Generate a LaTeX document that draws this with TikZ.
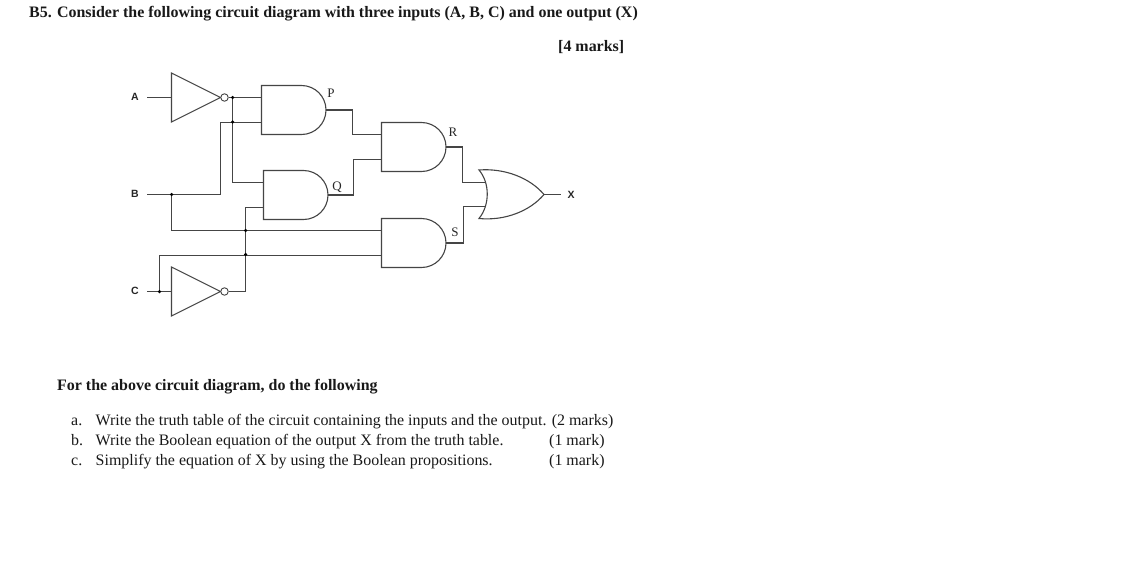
\documentclass[tikz,border=0pt]{standalone}
\usepackage{fontspec}
\setmainfont{Liberation Serif}
\newfontfamily\lblfont{Liberation Sans}
\definecolor{wirec}{HTML}{454545}
\tikzset{
  wire/.style={draw=wirec,line width=1.1pt,line join=miter},
  gateline/.style={draw=wirec,line width=1.1pt,fill=white,line join=miter},
  dotm/.style={circle,fill=black,inner sep=0pt,minimum size=3.5pt},
  bubble/.style={circle,draw=wirec,line width=0.9pt,fill=white,inner sep=0pt,minimum size=7.5pt},
  inlab/.style={font=\lblfont\bfseries\fontsize{10.5}{12}\selectfont,text=black!85,inner sep=0pt},
  gatelab/.style={font=\fontsize{13}{15}\selectfont,text=black!85,inner sep=0pt},
  txt/.style={anchor=base west,inner sep=0pt,font=\fontsize{15.95}{18}\selectfont,text=black!90},
  txtb/.style={txt,font=\bfseries\fontsize{15.95}{18}\selectfont},
}
\newcommand{\andgate}[3]{% name, left x, top y
  \draw[gateline] (#2,#3) -- ++(40,0) arc[start angle=-90,end angle=90,radius=24.5] -- ++(-40,0) -- cycle;
  \coordinate (#1i1) at (#2,#3+12);
  \coordinate (#1i2) at (#2,#3+37);
  \coordinate (#1o) at (#2+64.5,#3+24.5);
}
\newcommand{\notgate}[3]{% name, left x, center y
  \draw[gateline] (#2,#3-24.5) -- (#2+49,#3) -- (#2,#3+24.5) -- cycle;
  \node[bubble] (#1b) at (#2+53,#3) {};
  \coordinate (#1i) at (#2,#3);
}
\begin{document}
\begin{tikzpicture}[x=1pt,y=-1pt]
\useasboundingbox[fill=white] (0,0) rectangle (1129,578);
% text
\node[txtb] (title) at (29,17.6) {B5. Consider the following circuit diagram with three inputs (A, B, C) and one output (X)};
\node[txtb] (marks) at (558,51.6) {[4 marks]};
\node[txtb] (head) at (57,390) {For the above circuit diagram, do the following};
\node[txt] (la) at (71,425) {a.};
\node[txt] (ta) at (95.5,425) {Write the truth table of the circuit containing the inputs and the output. (2 marks)};
\node[txt] (lb) at (71,445) {b.};
\node[txt] (tb) at (95.5,445) {Write the Boolean equation of the output X from the truth table.};
\node[txt] (mb) at (549,445) {(1 mark)};
\node[txt] (lc) at (71,465) {c.};
\node[txt] (tc) at (95.5,465) {Simplify the equation of X by using the Boolean propositions.};
\node[txt] (mc) at (549,465) {(1 mark)};
% gates
\notgate{na}{171.5}{97.5}
\notgate{nc}{171.5}{291.5}
\andgate{p}{261.5}{85.5}
\andgate{q}{263.5}{170.5}
\andgate{r}{381.5}{122.5}
\andgate{s}{381.5}{218.5}
\draw[gateline] (479,170) .. controls (505,168) and (530,178) .. (544,194.5) .. controls (530,211) and (505,221) .. (479,218.5) .. controls (490,205) and (490,183) .. (479,170) -- cycle;
\coordinate (oro) at (544,194.5);
\coordinate (ori1) at (485.5,182.5);
\coordinate (ori2) at (485.5,206.5);
% labels
\node[inlab] (A) at (135,97) {A};
\node[inlab] (B) at (135,194) {B};
\node[inlab] (C) at (135,291) {C};
\node[inlab] (X) at (571,195) {X};
\node[gatelab] (P) at (331,93) {P};
\node[gatelab] (Q) at (337,187) {Q};
\node[gatelab] (R) at (453,132) {R};
\node[gatelab] (S) at (455,232) {S};
% free ends
\coordinate (ain) at (147,97.5);
\coordinate (bin) at (147,194.5);
\coordinate (cin) at (147,291.5);
\coordinate (xout) at (561,194.5);
% wires
\coordinate (j1) at (232.5,97.5);
\coordinate (j3) at (171.5,194.5);
\coordinate (j4) at (159.5,291.5);
\draw[wire] (ain) -- (nai);
\draw[wire] (nab) -- (j1) -- (pi1);
\draw[wire] (j1) |- (qi1);
\draw[wire] (bin) -- (220.5,194.5) |- (pi2);
\draw[wire] (j3) |- (si1);
\draw[wire] (cin) -- (nci);
\draw[wire] (j4) |- (si2);
\draw[wire] (ncb) -- (245.5,291.5) |- (qi2);
\draw[wire] (po) -- (352.5,110) |- (ri1);
\draw[wire] (qo) -- (353.5,195) |- (ri2);
\draw[wire] (ro) -- (462.5,147) |- (ori1);
\draw[wire] (so) -- (463.5,243) |- (ori2);
\draw[wire] (oro) -- (xout);
% junctions
\node[dotm] (d1) at (j1) {};
\node[dotm] (d2) at (232.5,122) {};
\node[dotm] (d3) at (j3) {};
\node[dotm] (d4) at (j4) {};
\node[dotm] (d5) at (245.5,230.5) {};
\node[dotm] (d6) at (245.5,254.5) {};
\end{tikzpicture}
\end{document}
